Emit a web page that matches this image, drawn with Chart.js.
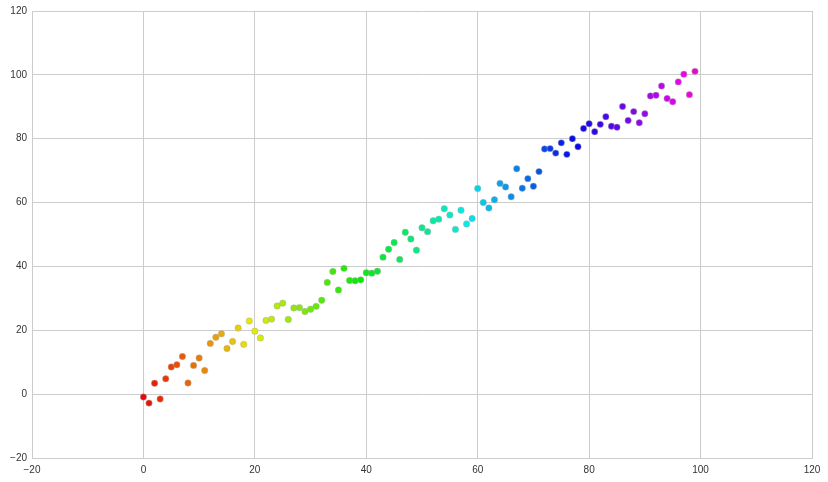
<!DOCTYPE html>
<html lang="en">
<head>
    <meta charset="UTF-8">
    <title>Scatter</title>
    <script src="https://cdn.jsdelivr.net/npm/chart.js"></script>
    <style>
        html, body { margin: 0; padding: 0; background: #fff; }
        #wrap { width: 828px; height: 482px; }
    </style>
</head>
<body>
    <div id="wrap"><canvas id="myChart" width="828" height="482"></canvas></div>

    <script>
        // data
        const xValues = [
            0, 1, 2, 3, 4, 5, 6, 7, 8, 9,
            10, 11, 12, 13, 14, 15, 16, 17, 18, 19,
            20, 21, 22, 23, 24, 25, 26, 27, 28, 29,
            30, 31, 32, 33, 34, 35, 36, 37, 38, 39,
            40, 41, 42, 43, 44, 45, 46, 47, 48, 49,
            50, 51, 52, 53, 54, 55, 56, 57, 58, 59,
            60, 61, 62, 63, 64, 65, 66, 67, 68, 69,
            70, 71, 72, 73, 74, 75, 76, 77, 78, 79,
            80, 81, 82, 83, 84, 85, 86, 87, 88, 89,
            90, 91, 92, 93, 94, 95, 96, 97, 98, 99
        ];
        const yValues = [
            -0.9, -2.8, 3.4, -1.5, 4.8, 8.5, 9.2, 11.8, 3.5, 9.0,
            11.3, 7.4, 15.9, 17.8, 18.9, 14.3, 16.5, 20.7, 15.6, 22.9,
            19.7, 17.6, 23.1, 23.5, 27.6, 28.5, 23.4, 27.0, 27.1, 25.9,
            26.6, 27.5, 29.4, 35.0, 38.4, 32.6, 39.4, 35.6, 35.5, 35.8,
            38.0, 37.9, 38.5, 42.9, 45.4, 47.5, 42.2, 50.7, 48.6, 45.1,
            52.1, 50.9, 54.3, 54.8, 58.1, 56.1, 51.6, 57.6, 53.3, 55.0,
            64.4, 60.0, 58.3, 60.9, 66.0, 64.9, 61.8, 70.6, 64.5, 67.5,
            65.1, 69.7, 76.8, 76.9, 75.5, 78.7, 75.1, 80.0, 77.5, 83.2,
            84.7, 82.2, 84.5, 86.9, 83.9, 83.6, 90.1, 85.7, 88.5, 85.0,
            87.8, 93.4, 93.6, 96.5, 92.6, 91.6, 97.8, 100.2, 93.8, 101.1
        ];
        const xTicks = [-20, 0, 20, 40, 60, 80, 100, 120];
        const yTicks = [-20, 0, 20, 40, 60, 80, 100, 120];

        const points = xValues.map((x, i) => ({ x: x, y: yValues[i] }));
        // colour runs red -> yellow -> green -> cyan -> blue -> magenta along x
        const colors = xValues.map(x => 'hsl(' + (x * 3.1) + ', 95%, 47%)');

        const fmt = v => String(v).replace('-', '\u2212');

        const ctx = document.getElementById('myChart').getContext('2d');
        new Chart(ctx, {
            type: 'scatter',
            data: {
                datasets: [{
                    data: points,
                    backgroundColor: colors,
                    borderColor: 'rgba(170,170,170,0.8)',
                    borderWidth: 0.6,
                    pointRadius: 3.2,
                    pointHoverRadius: 3.2
                }]
            },
            options: {
                responsive: false,
                animation: false,
                layout: { padding: { top: 11, right: 16, left: 0, bottom: 0 } },
                plugins: {
                    legend: { display: false },
                    tooltip: { enabled: false }
                },
                scales: {
                    x: {
                        type: 'linear',
                        min: xTicks[0],
                        max: xTicks[xTicks.length - 1],
                        afterBuildTicks: axis => { axis.ticks = xTicks.map(v => ({ value: v })); },
                        afterFit: axis => { axis.height = 24; },
                        grid: { color: '#cccccc', lineWidth: 1, tickLength: 0, drawTicks: false },
                        border: { color: '#cccccc' },
                        ticks: {
                            padding: 6,
                            color: '#333333',
                            font: { family: 'Liberation Sans, Arial', size: 10 },
                            maxRotation: 0,
                            callback: fmt
                        }
                    },
                    y: {
                        type: 'linear',
                        min: yTicks[0],
                        max: yTicks[yTicks.length - 1],
                        afterBuildTicks: axis => { axis.ticks = yTicks.map(v => ({ value: v })); },
                        afterFit: axis => { axis.width = 32; },
                        grid: { color: '#cccccc', lineWidth: 1, tickLength: 0, drawTicks: false },
                        border: { color: '#cccccc' },
                        ticks: {
                            padding: 5,
                            color: '#333333',
                            font: { family: 'Liberation Sans, Arial', size: 10 },
                            callback: fmt
                        }
                    }
                }
            }
        });
    </script>
</body>
</html>
